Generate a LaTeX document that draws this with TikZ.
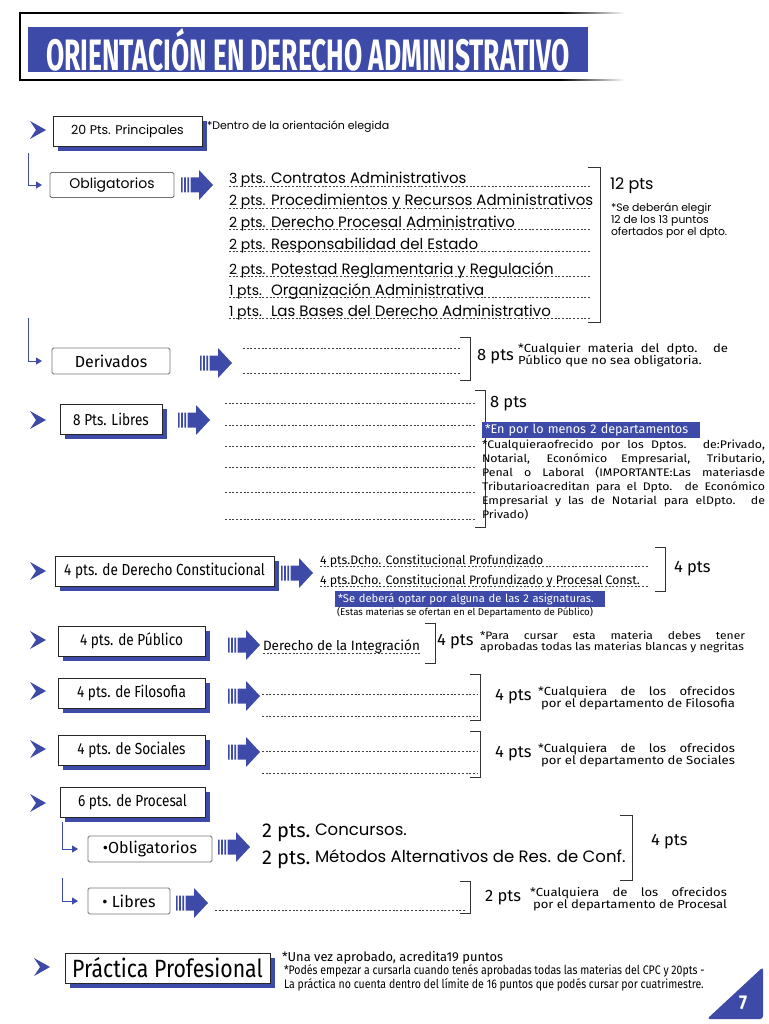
\documentclass[tikz,border=0pt]{standalone}
\usepackage{fontspec}
\setmainfont{Poppins}
\newfontfamily\cond[FakeStretch=0.85]{Fira Sans}
\newfontfamily\plainf{Fira Sans}
\newfontfamily\widef[FakeStretch=1.12]{Fira Sans}
\newfontfamily\titlefont[FakeStretch=0.6]{Fira Sans}
\usetikzlibrary{arrows.meta, shadows, positioning}
\definecolor{mainblue}{RGB}{62,74,168}

\begin{document}
\begin{tikzpicture}[x=1pt, y=-1pt,
	every node/.style={inner sep=0pt, outer sep=0pt},
	box/.style={draw=black!85, fill=white, line width=0.9pt, minimum height=30pt, anchor=west, font=\cond\fontsize{16}{18}\selectfont},
	shadowbox/.style={box, general shadow={fill=mainblue, shadow xshift=5pt, shadow yshift=-5pt}},
	softbox/.style={box, draw=black!55, rounded corners=1.5pt, minimum height=26pt, font=\plainf\fontsize{16}{18}\selectfont},
	dots/.style={dash pattern=on 2pt off 1.7pt, line width=0.6pt, black!75},
	bracket/.style={line width=0.9pt, black!80},
	link/.style={mainblue, line width=0.8pt, -{Triangle[length=6pt, width=7pt]}},
	hilite/.style={fill=mainblue, text=white, anchor=west, inner xsep=3pt, inner ysep=2pt, align=left},
	pts/.style={anchor=west, font=\plainf\fontsize{16.5}{18}\selectfont},
	note/.style={anchor=north west, align=justify, font=\widef\fontsize{11.7}{11}\selectfont},
	item/.style={anchor=base west, font=\plainf\fontsize{12.3}{14}\selectfont},
	pics/pointer/.style={code={\fill[mainblue] (0,-9) -- (16,0) -- (0,9) -- (6,0) -- cycle;}},
	pics/blockarrow/.style={code={
		\fill[mainblue] (0,-7.5) rectangle (1.6,7.5) (3.2,-7.5) rectangle (4.8,7.5) (6.4,-7.5) rectangle (8,7.5);
		\fill[mainblue] (9.5,-7.5) -- (18,-7.5) -- (18,-15) -- (32,0) -- (18,15) -- (18,7.5) -- (9.5,7.5) -- cycle;}}]
\useasboundingbox (0,0) rectangle (768,1024);

\draw[line width=1.2pt] (560,13) -- (20,13) -- (20,80) -- (560,80);
\shade[left color=black, right color=white] (560,12.4) rectangle (625,13.6);
\shade[left color=black, right color=white] (560,79.4) rectangle (625,80.6);
\node[fill=mainblue, minimum width=560pt, minimum height=45pt, anchor=north west, text=white,
	font=\titlefont\bfseries\fontsize{44}{44}\selectfont] (title) at (28,27) {ORIENTACIÓN EN DERECHO ADMINISTRATIVO};

\pic at (30,130) {pointer};
\node[shadowbox, minimum width=149pt, font=\fontsize{12.6}{14}\selectfont] (princ) at (53,131) {20 Pts. Principales};
\node[anchor=west, font=\fontsize{11}{13}\selectfont] (dentro) at (207,127) {*Dentro de la orientación elegida};

\coordinate (c1) at (28,153);
\node[softbox, minimum width=124pt, minimum height=25pt, font=\fontsize{14}{16}\selectfont] (oblig) at (50,185) {Obligatorios};
\draw[link, shorten >=8pt] (c1) |- (oblig.west);
\pic at (181,185) {blockarrow};
\foreach \p/\s/\y [count=\i] in {3 pts./Contratos Administrativos/184, 2 pts./Procedimientos y Recursos Administrativos/206,
	2 pts./Derecho Procesal Administrativo/227, 2 pts./Responsabilidad del Estado/249, 2 pts./Potestad Reglamentaria y Regulación/274,
	1 pts./Organización Administrativa/295, 1 pts./Las Bases del Derecho Administrativo/316}{
	\node[anchor=base west, font=\fontsize{14}{15}\selectfont] (op\i) at (229,\y) {\p};
	\node[anchor=base west, font=\fontsize{15}{17}\selectfont] (os\i) at (271,\y) {\s};
	\draw[dots] (229,\y+2) -- (590,\y+2);
}
\draw[bracket] (588,167) -- (600,167) -- (600,322) -- (588,322);
\node[anchor=west, font=\fontsize{16}{18}\selectfont] (doce) at (610,186) {12 pts};
\node[anchor=north west, align=left, font=\fontsize{10.8}{10}\selectfont] (elegir) at (611,203) {*Se deberán elegir\\ 12 de los 13 puntos\\ ofertados por el dpto.};

\coordinate (c2) at (28,318);
\node[softbox, minimum width=118pt] (deriv) at (52,361) {Derivados};
\draw[link, shorten >=10pt] (c2) |- (deriv.west);
\pic at (200,363) {blockarrow};
\draw[dots] (243,348) -- (460,348) (243,373) -- (460,373);
\draw[bracket] (460,337) -- (470,337) -- (470,380) -- (460,380);
\node[pts] (ochoa) at (477,357) {8 pts};
\node[note, text width=210pt] (publico) at (518,343) {*Cualquier materia del dpto. de\linebreak Público que no sea obligatoria.};

\pic at (30,420) {pointer};
\node[shadowbox, minimum width=102pt] (libres) at (60,419) {8 Pts. Libres};
\pic at (178,420) {blockarrow};
\foreach \y in {403,425,446,467,492,519}{
	\draw[dots] (225,\y) -- (475,\y);
}
\draw[bracket] (475,390) -- (485,390) -- (485,527) -- (475,527);
\node[pts] (ochob) at (490,404) {8 pts};
\node[hilite, text width=212pt, font=\plainf\fontsize{12.6}{14}\selectfont] (deptos) at (482,430) {*En por lo menos 2 departamentos};
\node[note, text width=283pt, font=\widef\fontsize{11}{14}\selectfont] (cualq) at (482,440) {*Cualquieraofrecido por los Dptos. de:Privado,\linebreak Notarial, Económico Empresarial, Tributario,\linebreak Penal o Laboral (IMPORTANTE:Las materiasde\linebreak Tributarioacreditan para el Dpto. de Económico\linebreak Empresarial y las de Notarial para elDpto. de\linebreak Privado)};

\pic at (30,571) {pointer};
\node[shadowbox, minimum width=219pt] (const) at (55,571) {4 pts. de Derecho Constitucional};
\pic at (281,573) {blockarrow};
\node[item] (cpa) at (320,564) {4 pts.Dcho. Constitucional Profundizado};
\node[item] (cpb) at (320,584) {4 pts.Dcho. Constitucional Profundizado y Procesal Const.};
\draw[dots] (320,566) -- (648,566) (320,586) -- (648,586);
\draw[bracket] (655,547) -- (665,547) -- (665,591) -- (655,591);
\node[pts] (cuatroa) at (674,569) {4 pts};
\node[hilite, text width=264pt, font=\plainf\fontsize{11.2}{13}\selectfont] (optar) at (335,599) {*Se deberá optar por alguna de las 2 asignaturas.};
\node[anchor=west, font=\plainf\fontsize{9.7}{11}\selectfont] (oferta) at (337,612) {(Estas materias se ofertan en el Departamento de Público)};

\pic at (30,640) {pointer};
\node[shadowbox, minimum width=147pt] (pub) at (58,641) {4 pts. de Público};
\pic at (228,645) {blockarrow};
\node[item, font=\plainf\fontsize{13.5}{15}\selectfont] (integ) at (263,650) {Derecho de la Integración};
\draw[dots] (263,653) -- (420,653);
\draw[bracket] (425,623) -- (435,623) -- (435,663) -- (425,663);
\node[pts] (cuatrob) at (437,642) {4 pts};
\node[note, text width=265pt, font=\widef\fontsize{10.8}{11}\selectfont] (cursar) at (480,631) {*Para cursar esta materia debes tener\linebreak aprobadas todas las materias blancas y negritas};

\pic at (30,691) {pointer};
\node[shadowbox, minimum width=147pt] (filo) at (58,693) {4 pts. de Filosofia};
\pic at (228,696) {blockarrow};
\draw[dots] (262,694) -- (478,694) (262,716) -- (478,716);
\draw[bracket] (470,674) -- (480,674) -- (480,720) -- (470,720);
\node[pts] (cuatroc) at (495,697) {4 pts};
\node[note, text width=197pt] (filonote) at (538,686) {*Cualquiera de los ofrecidos\linebreak \hspace*{3pt}por el departamento de Filosofia};

\pic at (30,749) {pointer};
\node[shadowbox, minimum width=147pt] (soc) at (58,750) {4 pts. de Sociales};
\pic at (228,752) {blockarrow};
\draw[dots] (262,751) -- (478,751) (262,773) -- (478,773);
\draw[bracket] (470,731) -- (480,731) -- (480,777) -- (470,777);
\node[pts] (cuatrod) at (495,754) {4 pts};
\node[note, text width=197pt] (socnote) at (538,743) {*Cualquiera de los ofrecidos\linebreak \hspace*{3pt}por el departamento de Sociales};

\pic at (30,803) {pointer};
\node[shadowbox, minimum width=145pt] (proc) at (60,802) {6 pts. de Procesal};
\coordinate (c3) at (62,822);
\node[softbox, minimum width=124pt] (pobl) at (88,849) {\textbullet Obligatorios};
\draw[link, shorten >=10pt] (c3) |- (pobl.west);
\pic at (218,847) {blockarrow};
\node[anchor=base west, font=\plainf\fontsize{20}{22}\selectfont] (conca) at (262,837) {2 pts.};
\node[anchor=base west, font=\fontsize{16.5}{18}\selectfont] (concb) at (315,835) {Concursos.};
\node[anchor=base west, font=\plainf\fontsize{20}{22}\selectfont] (meta) at (262,864) {2 pts.};
\node[anchor=base west, font=\fontsize{16.5}{18}\selectfont] (metb) at (315,862) {Métodos Alternativos de Res. de Conf.};
\draw[bracket] (620,815) -- (632,815) -- (632,880) -- (620,880);
\node[pts] (cuatroe) at (651,842) {4 pts};
\coordinate (c4) at (62,878);
\node[softbox, minimum width=82pt] (plib) at (88,901) {\textbullet\ Libres};
\draw[link, shorten >=10pt] (c4) |- (plib.west);
\pic at (176,903) {blockarrow};
\draw[dots] (215,910) -- (465,910);
\draw[bracket] (460,881) -- (470,881) -- (470,913) -- (460,913);
\node[pts] (dos) at (485,898) {2 pts};
\node[note, text width=197pt] (procnote) at (530,887) {*Cualquiera de los ofrecidos\linebreak \hspace*{3pt}por el departamento de Procesal};

\pic at (34,967) {pointer};
\node[shadowbox, minimum width=205pt, font=\cond\fontsize{25}{27}\selectfont] (prac) at (65,968) {Práctica Profesional};
\node[anchor=west, font=\plainf\fontsize{12.9}{14}\selectfont] (acred) at (282,958) {*Una vez aprobado, acredita19 puntos};
\node[anchor=north west, align=left, font=\cond\fontsize{12.4}{11}\selectfont] (podes) at (284,965) {*Podés empezar a cursarla cuando tenés aprobadas todas las materias del CPC y 20pts -\\La práctica no cuenta dentro del límite de 16 puntos que podés cursar por cuatrimestre.};

\fill[mainblue, rounded corners=3pt] (707,1019) -- (763,967) -- (763,1019) -- cycle;
\node[text=white, font=\cond\bfseries\fontsize{20}{22}\selectfont] (pagina) at (743,1003) {7};
\end{tikzpicture}
\end{document}
